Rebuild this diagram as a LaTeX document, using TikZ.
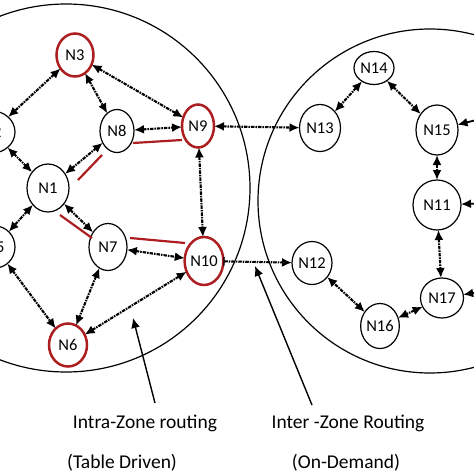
\documentclass[tikz,border=0pt]{standalone}
\usepackage{fontspec}
\setmainfont{Carlito}
\usetikzlibrary{shapes.geometric, arrows.meta}
\definecolor{zonered}{RGB}{172,30,32}
\tikzset{
  host/.style={ellipse, draw, line width=1.2pt, inner sep=0pt, outer sep=0pt,
    minimum width=40pt, minimum height=46pt, font=\fontsize{16.5}{18}\selectfont},
  gateway/.style={host, draw=zonered, line width=2.5pt},
  link/.style={<->, line width=2.1pt, dash pattern=on 3.5pt off 1pt on 1.5pt off 1pt},
  redmark/.style={zonered, line width=2.2pt},
  pointer/.style={->, line width=1.4pt},
  caption/.style={font=\fontsize{19.5}{22}\selectfont}
}
\begin{document}
\begin{tikzpicture}[x=1pt, y=-1pt, >={Latex[length=10pt,width=9pt]}]
    \useasboundingbox (0,0) rectangle (474,474);

    % 1. Two routing zones
    \draw[line width=1.2pt] (66,188) circle (184);
    \draw[line width=1.2pt] (430,201) circle (172);

    % 2. Nodes of the left zone
    \node[host, minimum width=46pt, minimum height=42pt] (n2) at (-8,132) {N2};
    \node[gateway, minimum width=37pt, minimum height=43pt] (n3) at (75,55) {N3};
    \node[host, minimum width=34pt, minimum height=43pt] (n8) at (117,131) {N8};
    \node[gateway, minimum width=32pt, minimum height=43pt] (n9) at (198,126) {N9};
    \node[host, minimum width=42pt, minimum height=48pt] (n1) at (48,188) {N1};
    \node[host, minimum width=40pt, minimum height=42pt] (n5) at (-5,247) {N5};
    \node[host, minimum width=38pt, minimum height=47pt] (n7) at (108,247) {N7};
    \node[gateway, minimum width=35pt, minimum height=48pt] (n10) at (204,261) {N10};
    \node[gateway, minimum width=38pt, minimum height=43pt] (n6) at (68,345) {N6};

    % 3. Nodes of the right zone
    \node[host, minimum width=40pt, minimum height=33pt] (n14) at (374,68) {N14};
    \node[host, minimum width=41pt, minimum height=47pt] (n13) at (320,128) {N13};
    \node[host, minimum width=42pt, minimum height=50pt] (n15) at (437,130) {N15};
    \node[host, minimum width=48pt, minimum height=50pt] (n11) at (437,205) {N11};
    \node[host, minimum width=40pt, minimum height=43pt] (n12) at (312,263) {N12};
    \node[host, minimum width=36pt, minimum height=45pt] (n16) at (380,326) {N16};
    \node[host, minimum width=43pt, minimum height=40pt] (n17) at (442,298) {N17};

    % 4. Intra-zone links
    \draw[link] (n3) -- (n2);
    \draw[link] (n3) -- (n8);
    \draw[link] (n3) -- (n9);
    \draw[link] (n8) -- (n9);
    \draw[link] (n2) -- (n1);
    \draw[link] (n1) -- (n8);
    \draw[link] (n1) -- (n5);
    \draw[link] (n1) -- (n7);
    \draw[link] (n5) -- (n6);
    \draw[link] (n7) -- (n6);
    \draw[link] (n7) -- (n10);
    \draw[link] (n6) -- (n10);
    \draw[link] (n9) -- (n10);

    \draw[link] (n14) -- (n13);
    \draw[link] (n14) -- (n15);
    \draw[link] (n15) -- (n11);
    \draw[link] (n11) -- (n17);
    \draw[link] (n17) -- (n16);
    \draw[link] (n16) -- (n12);

    % links coming in from outside the picture
    \coordinate (out15) at (492,116);
    \coordinate (out11) at (492,203);
    \coordinate (out17) at (492,290);
    \draw[pointer, line width=1.8pt] (out15) -- (n15);
    \draw[pointer, line width=1.8pt] (out11) -- (n11);
    \draw[pointer, line width=1.8pt] (out17) -- (n17);

    % 5. Inter-zone links
    \draw[link] (n9) -- (n13);
    \draw[link, {Bar[width=9pt,line width=1.2pt]}->] (n10) -- (n12);

    % 6. Red route markers
    \draw[redmark] ([shift={(30,-8)}]n1.center) -- ([shift={(-15,24)}]n8.center);
    \draw[redmark] ([shift={(16,12)}]n8.center) -- ([shift={(-16,14)}]n9.center);
    \draw[redmark] ([shift={(12,27)}]n1.center) -- ([shift={(-16,-9)}]n7.center);
    \draw[redmark] ([shift={(22,-9)}]n7.center) -- ([shift={(-19,-18)}]n10.center);

    % 7. Captions and pointers
    \node[caption] (intra) at (145,423) {Intra-Zone routing};
    \node[caption] (intrasub) at (122,463) {(Table Driven)};
    \node[caption] (inter) at (348,423) {Inter -Zone Routing};
    \node[caption] (intersub) at (346,463) {(On-Demand)};

    \coordinate (p1) at (133,318);
    \coordinate (p2) at (255,266);
    \draw[pointer] ([shift={(10,-8)}]intra.north) -- (p1);
    \draw[pointer] ([shift={(-36,-6)}]inter.north) -- (p2);
\end{tikzpicture}
\end{document}
